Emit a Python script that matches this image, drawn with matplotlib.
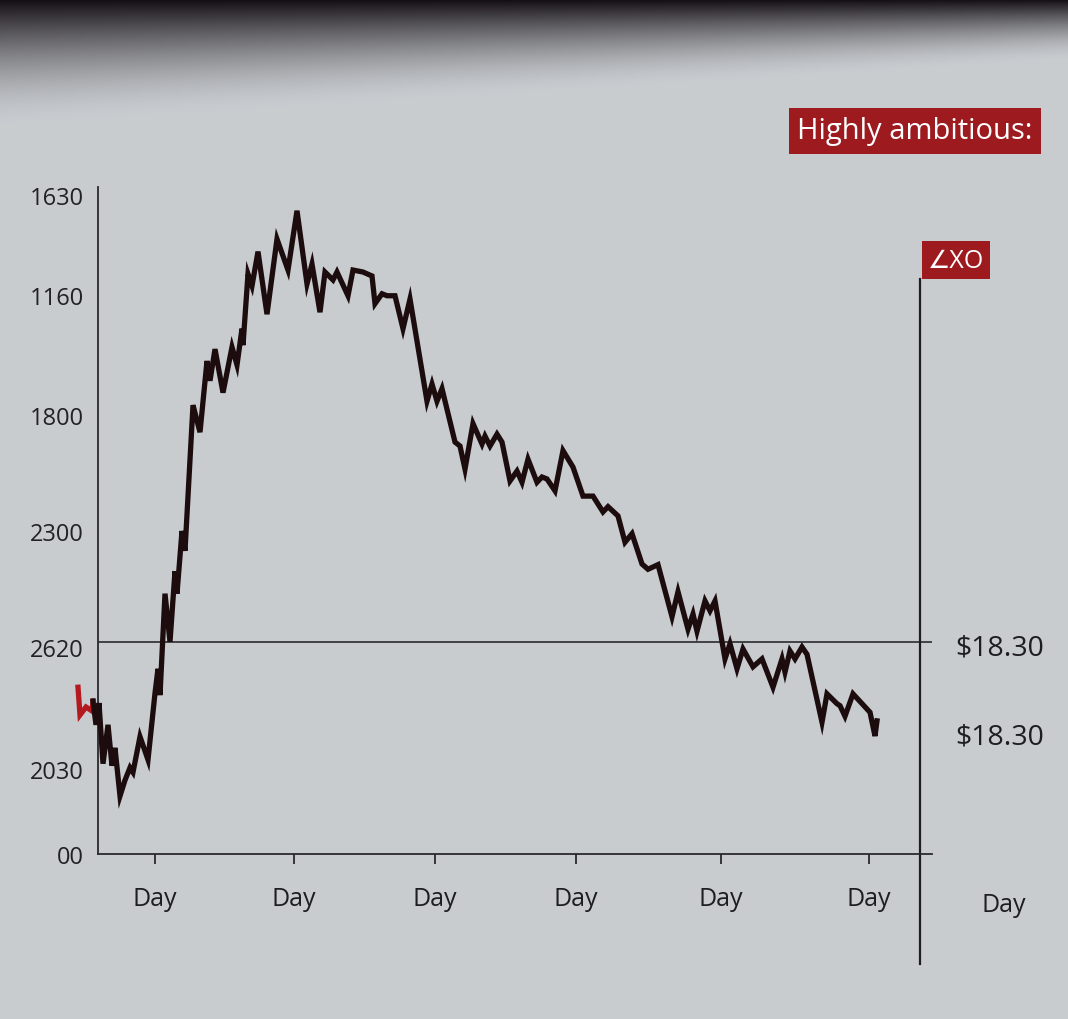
import matplotlib
matplotlib.use("Agg")
import matplotlib.pyplot as plt
import numpy as np

plt.rcParams['font.family'] = ['Open Sans', 'DejaVu Sans']

# trace (x in days, y in chart units)
lead_days = [-5, -4.5, -3, -1.5, -1.25]
lead_vals = [25.3, 21.1, 22.3, 21.7, 23.2]

days = [-1.25, -0.5, 0.25, 1.25, 2.5, 3.5, 4.25, 5.5, 6.75, 8, 8.75, 10.5, 12.5,
        14.25, 15, 15.5, 16.75, 18, 19.25, 19.75, 21, 21.75, 23.75, 25.5, 27.25,
        28, 29.25, 31.25, 33.5, 34.75, 36, 36.25, 37.5, 38.5, 40, 42.25, 44.75,
        47.5, 49.75, 52.25, 53.5, 55.5, 56.75, 58.75, 59.75, 62.5, 63.75, 66.25,
        68.5, 69.25, 71, 72.25, 74.25, 76.25, 78, 82.25, 83.5, 84.75, 86, 89.25,
        90.5, 91.75, 93.75, 96, 96.75, 98, 99.75, 101, 103, 104.75, 106, 107.5,
        109.75, 111, 112.25, 114.25, 116.25, 118.75, 121.25, 123.75, 126.25,
        127.5, 130, 131.75, 133.5, 136, 137.5, 140, 143.5, 145, 147.5, 148.75,
        149.75, 151.75, 153, 154.25, 156.75, 158, 159.75, 161.25, 163.75, 166,
        168.75, 171, 171.75, 173, 174.25, 176, 177.25, 181, 182.25, 184.75,
        185.5, 186.75, 188.75, 193, 194.25, 194.75]
vals = [23.2, 19.6, 22.9, 13.7, 19.6, 13.4, 16.1, 8.8, 11.2, 13.1, 12.4, 17.8, 14.3,
        24.4, 28.1, 24.1, 39.5, 32.2, 42.9, 39.5, 49.0, 46.0, 68.1, 64.0, 74.8,
        71.8, 76.6, 70.0, 76.9, 74.2, 79.7, 77.2, 88.0, 86.2, 91.4, 81.9, 93.3,
        88.6, 97.6, 86.5, 89.5, 82.2, 88.3, 87.1, 88.3, 84.7, 88.6, 88.3,
        87.7, 83.5, 85.0, 84.7, 84.7, 79.7, 84.2, 68.7, 71.3, 68.7, 70.6, 62.5,
        61.9, 58.4, 65.3, 62.2, 63.4, 61.9, 63.7, 62.5, 56.6, 58.1, 56.4, 59.9,
        56.4, 57.2, 56.9, 55.1, 61.2, 58.7, 54.3, 54.3, 51.9,
        52.7, 51.3, 47.3, 48.6, 44.0, 43.2, 43.9, 36.0, 39.8, 34.1, 36.4,
        33.8, 38.4, 36.9, 38.4, 29.6, 31.9, 28.1, 31.1, 28.4, 29.6,
        25.3, 29.6, 27.6, 30.8, 29.6, 31.4, 30.3, 20.0, 24.3, 22.8,
        22.5, 20.9, 24.3, 21.5, 17.9, 20.2]

ytick_vals = [0, 12.9, 31.4, 49.0, 66.6, 84.8, 100]
ytick_labels = ['00', '2030', '2620', '2300', '1800', '1160', '1630']
xtick_vals = [14.25, 49, 84.25, 119.5, 155.75, 192.75]
xtick_labels = ['Day'] * 6
ref_level = 32.2
price_labels = ['$18.30', '$18.30']
price_label_y = [31.4, 17.8]

fig = plt.figure(figsize=(10.68, 10.2), dpi=100)

# screen background with the dark bezel shadow at the top
H, W = 1020, 1068
yy, xx = np.mgrid[0:H, 0:W]
edge = 125 - 65 * xx / W
t = np.clip(yy / edge, 0, 1)
dark = (1 - t) ** 1.6
base = np.array([0.785, 0.800, 0.815])
shade = np.array([0.07, 0.05, 0.07])
img = base[None, None, :] * (1 - dark[..., None]) + shade[None, None, :] * dark[..., None]
bg = fig.add_axes([0, 0, 1, 1], zorder=-1)
bg.imshow(img, aspect='auto', extent=(0, 1, 0, 1))
bg.axis('off')

ax = fig.add_axes([98 / 1068, 1 - 855 / 1020, 834 / 1068, 667 / 1020])
ax.set_facecolor('none')
ax.set_xlim(0, 208.5)
ax.set_ylim(0, 101.2)

ax.axhline(ref_level, color='#2a2a2e', lw=1.2, zorder=2)
ax.plot(lead_days, lead_vals, color='#b3191e', lw=3.8, clip_on=False,
        solid_joinstyle='miter', zorder=3)
ax.plot(days, vals, color='#1d0c0e', lw=3.8, clip_on=False,
        solid_joinstyle='miter', zorder=4)

# right-hand marker line beyond the plot
ax.plot([205.5, 205.5], [87.3, -16.7], color='#1e1e22', lw=1.6, clip_on=False)

for s in ['top', 'right']:
    ax.spines[s].set_visible(False)
for s in ['left', 'bottom']:
    ax.spines[s].set_color('#2a2a2e')
    ax.spines[s].set_linewidth(1.3)

ax.set_yticks(ytick_vals)
ax.set_yticklabels(ytick_labels)
ax.tick_params(axis='y', length=0, pad=10, labelsize=17, labelcolor='#222226')
ax.set_xticks(xtick_vals)
ax.set_xticklabels(xtick_labels)
ax.tick_params(axis='x', length=7, width=1.3, color='#2a2a2e', pad=16,
               labelsize=18, labelcolor='#1e1e22')

ax.text(226.5, -7.6, 'Day', ha='center', va='center', fontsize=18,
        color='#1e1e22', clip_on=False)
for lab, yv in zip(price_labels, price_label_y):
    ax.text(214.3, yv, lab, ha='left', va='center', fontsize=20.5,
            color='#1e1e22', clip_on=False)

fig.text(915 / 1068, 1 - 132 / 1020, 'Highly ambitious:', ha='center', va='center',
         fontsize=21, color='white',
         bbox=dict(boxstyle='square,pad=0.3', fc='#9d1a1f', ec='none'))
fig.text(956 / 1068, 1 - 261 / 1020, '\u2220XO', ha='center', va='center',
         fontsize=18, color='white',
         bbox=dict(boxstyle='square,pad=0.25', fc='#9d1a1f', ec='none'))

fig.savefig('out.png', dpi=100)
